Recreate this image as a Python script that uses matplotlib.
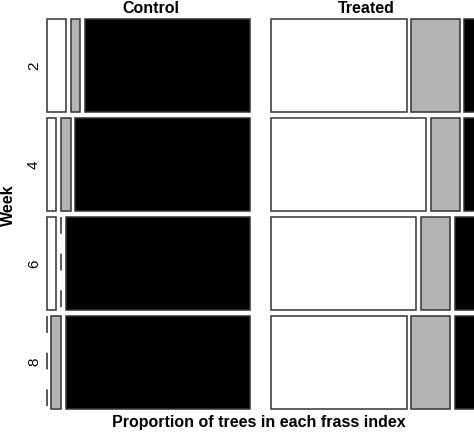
import matplotlib
matplotlib.use('Agg')
import matplotlib.pyplot as plt
from matplotlib.patches import Rectangle

plt.rcParams['font.family'] = ['Liberation Sans', 'DejaVu Sans']

# number of trees in each frass index (low / medium / high) per week
weeks = ['2', '4', '6', '8']
groups = ['Control', 'Treated']
frass_colors = ['white', '#b3b3b3', 'black']

control_low = [4, 2, 2, 0]
control_mid = [2, 2, 0, 2]
control_high = [34, 36, 38, 38]

treated_low = [28, 32, 30, 28]
treated_mid = [10, 6, 6, 8]
treated_high = [4, 4, 6, 6]

data = {
    'Control': [control_low, control_mid, control_high],
    'Treated': [treated_low, treated_mid, treated_high],
}

# spacing of the mosaic (x in tree units, y in share of the panel)
gap_x = 0.95
panel_gap = 4.3
gap_y = 0.0156
px_per_unit = 4.85
fig_w, fig_h = 474, 433
left_px, top_px, bottom_px = 46.7, 19.3, 408.7

fig = plt.figure(figsize=(fig_w / 100, fig_h / 100), dpi=100)
ax = fig.add_axes([left_px / fig_w, 1 - bottom_px / fig_h,
                   1 - left_px / fig_w, (bottom_px - top_px) / fig_h])
ax.set_xlim(0, (fig_w - left_px) / px_per_unit)
ax.set_ylim(1 + gap_y * (len(weeks) - 1), 0)
ax.axis('off')

x0 = 0
centers = {}
for g in groups:
    cols = data[g]
    week_tot = [sum(c[i] for c in cols) for i in range(len(weeks))]
    panel_tot = sum(week_tot)
    panel_w = panel_tot / len(weeks)
    y = 0
    for i in range(len(weeks)):
        h = week_tot[i] / panel_tot
        x = x0
        for j, c in enumerate(cols):
            w = c[i] / week_tot[i] * panel_w
            if c[i] == 0:
                # empty cell drawn as a dashed line, like R's mosaicplot
                ax.plot([x, x], [y, y + h], color='#2a2a2a', lw=1.1,
                        linestyle=(0, (11, 13)), clip_on=False)
            else:
                ax.add_patch(Rectangle((x, y), w, h, facecolor=frass_colors[j],
                                       edgecolor='#333333', lw=1.1, clip_on=False))
            x += w + gap_x
        y += h + gap_y
    centers[g] = x0 + (panel_w + gap_x * 2) / 2
    x0 += panel_w + gap_x * 2 + panel_gap

# column labels
ax.text(centers['Control'] + 0.5, -0.03, 'Control', ha='center', va='center',
        fontsize=11.5, fontweight='bold')
ax.text(65.8, -0.03, 'Treated', ha='center', va='center',
        fontsize=11.5, fontweight='bold')

# week labels
y = 0
for i, wk in enumerate(weeks):
    h = 0.25
    ax.text(-2.6, y + h / 2, wk, rotation=90, ha='center', va='center', fontsize=11)
    y += h + gap_y

fig.text(259 / fig_w, 1 - 423 / fig_h, 'Proportion of trees in each frass index',
         ha='center', va='center', fontsize=11.5, fontweight='bold')
fig.text(8 / fig_w, 1 - 205 / fig_h, 'Week', rotation=90, ha='center', va='center',
         fontsize=11.5, fontweight='bold')

fig.savefig('out.png', dpi=100)
